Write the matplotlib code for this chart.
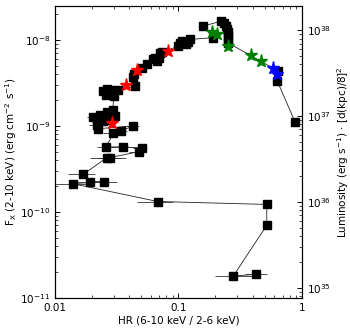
import matplotlib
matplotlib.use("Agg")
import matplotlib.pyplot as plt
import numpy as np

# Hardness ratio (6-10 keV / 2-6 keV) and flux (2-10 keV) along the track
hr = [0.427, 0.279, 0.521, 0.521, 0.068, 0.0139, 0.0249, 0.0192, 0.0170,
      0.0263, 0.0279, 0.048, 0.051, 0.0354, 0.0259, 0.0297, 0.0341, 0.0427,
      0.0222, 0.0218, 0.0247, 0.0218, 0.0202, 0.0232, 0.0262, 0.0279, 0.0307,
      0.0262, 0.0294, 0.0300, 0.0259, 0.0244, 0.0262, 0.0284, 0.0326, 0.0446,
      0.0427, 0.0437, 0.0505, 0.0554, 0.0619, 0.0647, 0.0668, 0.0702, 0.0711,
      0.0741, 0.100, 0.103, 0.108, 0.115, 0.1205, 0.124, 0.192, 0.158, 0.221,
      0.235, 0.242, 0.247, 0.252, 0.254, 0.254, 0.252, 0.647, 0.635, 0.884]
flux = [1.87e-11, 1.79e-11, 6.97e-11, 1.22e-10, 1.32e-10, 2.13e-10, 2.25e-10,
        2.25e-10, 2.74e-10, 4.28e-10, 4.28e-10, 5.03e-10, 5.48e-10, 5.73e-10,
        5.68e-10, 8.2e-10, 8.73e-10, 9.98e-10, 9.3e-10, 1.04e-9, 1.14e-9,
        1.19e-9, 1.27e-9, 1.33e-9, 1.25e-9, 1.17e-9, 1.30e-9, 1.47e-9, 1.52e-9,
        2.23e-9, 2.27e-9, 2.55e-9, 2.67e-9, 2.62e-9, 2.62e-9, 2.91e-9, 3.75e-9,
        3.99e-9, 4.77e-9, 5.21e-9, 5.96e-9, 6.24e-9, 5.69e-9, 6.24e-9, 7.13e-9,
        7.25e-9, 8.51e-9, 9.33e-9, 9.74e-9, 8.91e-9, 9.48e-9, 1.02e-8, 1.07e-8,
        1.455e-8, 1.66e-8, 1.59e-8, 1.48e-8, 1.36e-8, 1.24e-8, 1.134e-8,
        1.04e-8, 9.33e-9, 4.36e-9, 3.33e-9, 1.11e-9]
# HR uncertainties (minus / plus)
hr_minus = [0.080, 0.080, 0, 0, 0.022, 0.0039, 0.006, 0.005, 0.0042,
            0.007, 0.006, 0.008, 0.008, 0.007, 0.004, 0.005, 0.006, 0.008,
            0.002, 0.003, 0.004, 0.002, 0.002, 0.002, 0.002, 0.002, 0.002,
            0.002, 0.002, 0.002, 0.002, 0.002, 0.002, 0.002, 0.002, 0.002,
            0.002, 0.002, 0.002, 0.002, 0.002, 0.002, 0.002, 0.002, 0.002,
            0.002, 0.003, 0.003, 0.003, 0.003, 0.003, 0.003, 0.005, 0.005, 0.005,
            0.005, 0.005, 0.005, 0.005, 0.005, 0.005, 0.005, 0.01, 0.01, 0.03]
hr_plus = [0.094, 0.127, 0, 0, 0.023, 0.0047, 0.007, 0.006, 0.0041,
           0.008, 0.010, 0.006, 0.005, 0.012, 0.005, 0.004, 0.004, 0.005,
           0.002, 0.004, 0.008, 0.002, 0.002, 0.002, 0.002, 0.002, 0.002,
           0.002, 0.002, 0.002, 0.002, 0.002, 0.002, 0.002, 0.002, 0.002,
           0.002, 0.002, 0.002, 0.002, 0.002, 0.002, 0.002, 0.002, 0.002,
           0.002, 0.003, 0.003, 0.003, 0.003, 0.003, 0.003, 0.005, 0.005, 0.005,
           0.005, 0.005, 0.005, 0.005, 0.005, 0.005, 0.005, 0.01, 0.01, 0.03]

red_hr = [0.0288, 0.0374, 0.046, 0.083]
red_flux = [1.07e-9, 2.97e-9, 4.44e-9, 7.5e-9]
green_hr = [0.187, 0.207, 0.252, 0.386, 0.469]
green_flux = [1.25e-8, 1.165e-8, 8.51e-9, 6.64e-9, 5.70e-9]
blue_hr = [0.583, 0.628]
blue_flux = [4.69e-9, 4.0e-9]

lum_factor = 7.66e45  # 4*pi*(8 kpc)^2 in cm^2

fs = 7.5
fig = plt.figure(figsize=(3.5, 3.33), dpi=100)
ax = fig.add_axes([0.157, 0.106, 0.705, 0.876])

ax.errorbar(hr, flux, xerr=[hr_minus, hr_plus], fmt='s', color='black',
            ms=5.3, mec='black', mfc='black', elinewidth=0.6, ecolor='#333333',
            capsize=0, zorder=3)
ax.plot(hr, flux, '-', color='#222222', lw=0.6, zorder=2)
ax.plot(red_hr, red_flux, '*', color='red', ms=9.5, mec='red', zorder=4)
ax.plot(green_hr, green_flux, '*', color='green', ms=9.5, mec='green', zorder=4)
ax.plot(blue_hr, blue_flux, '*', color='blue', ms=9.5, mec='blue', zorder=4)

ax.set_xscale('log')
ax.set_yscale('log')
ax.set_xlim(0.01, 1.0)
ax.set_ylim(1e-11, 2.5e-8)
ax.set_xlabel('HR (6-10 keV / 2-6 keV)', fontsize=fs, labelpad=2)
ax.set_ylabel(r'F$_{\rm X}$ (2-10 keV) (erg cm$^{-2}$ s$^{-1}$)', fontsize=fs, labelpad=1)
ax.tick_params(which='both', direction='in', top=True, labelsize=fs)
ax.tick_params(which='major', length=3.5, width=0.7)
ax.tick_params(which='minor', length=2, width=0.5)
ax.xaxis.set_major_formatter(matplotlib.ticker.FuncFormatter(
    lambda v, p: {0.01: '0.01', 0.1: '0.1', 1.0: '1'}.get(round(v, 4), '')))

ax2 = ax.twinx()
ax2.set_yscale('log')
ax2.set_ylim(1e-11 * lum_factor, 2.5e-8 * lum_factor)
ax2.set_ylabel(r'Luminosity (erg s$^{-1}$) $\cdot$ [d(kpc)/8]$^2$', fontsize=fs, labelpad=3)
ax2.tick_params(which='both', direction='in', labelsize=fs)
ax2.tick_params(which='major', length=3.5, width=0.7)
ax2.tick_params(which='minor', length=2, width=0.5)

fig.savefig('out.png', dpi=100)
